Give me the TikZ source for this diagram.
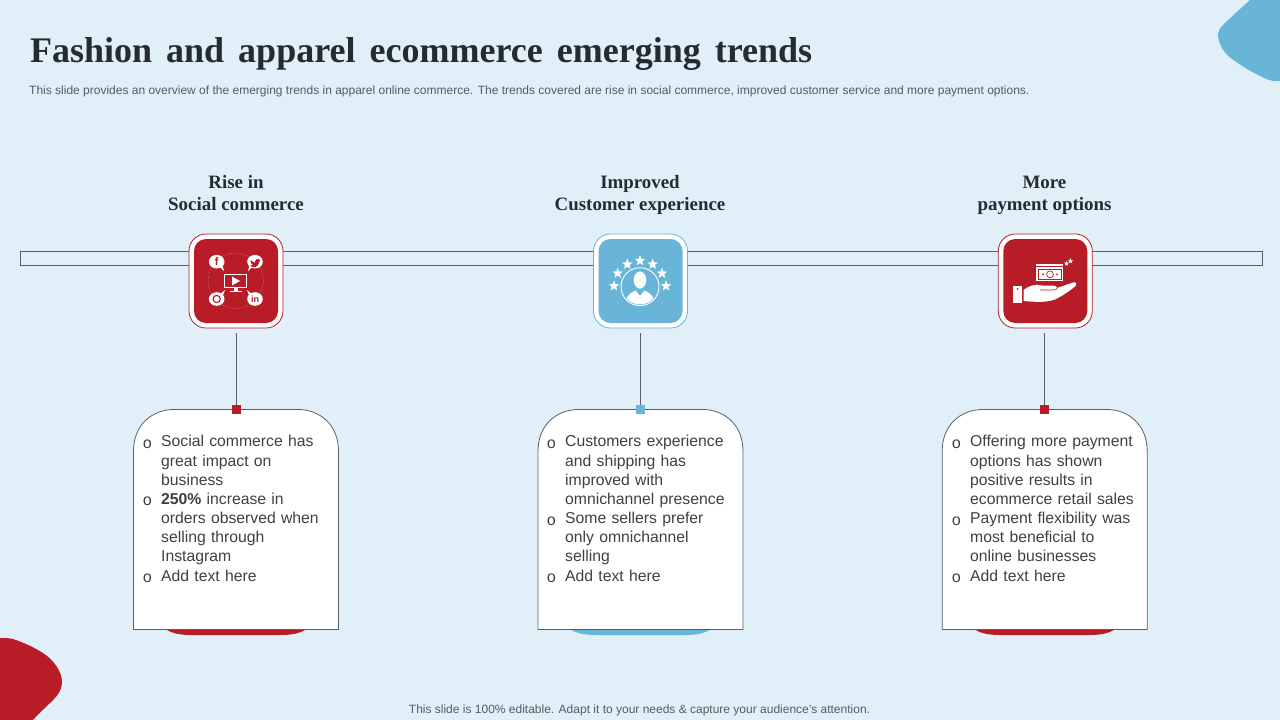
\documentclass[tikz,border=0pt]{standalone}
\usepackage{fontspec}
\setmainfont{Liberation Sans}
\newfontfamily\serifh{Liberation Serif Bold}
\newfontfamily\bulf{Liberation Mono}
\usetikzlibrary{calc}
\definecolor{bg}{HTML}{E1F0F8}
\definecolor{rd}{HTML}{B71C27}
\definecolor{bl}{HTML}{68B5D8}
\definecolor{ln}{HTML}{5A6066}
\definecolor{tx}{HTML}{404040}
\definecolor{sb}{HTML}{555B60}
\definecolor{ttl}{HTML}{262B2F}
\newcommand{\bul}{\leavevmode\llap{\raisebox{-1.5pt}{\bulf\fontsize{16}{16}\selectfont o}\hspace{9pt}}}
\newcommand{\starat}[3]{\begin{scope}[shift={(#1,#2)}]\fill[white] (270:#3) \foreach \a/\r in {306/0.42,342/1,18/0.42,54/1,90/0.42,126/1,162/0.42,198/1,234/0.42}{ -- (\a:#3*\r)} -- cycle;\end{scope}}
\tikzset{
 x=1pt,y=-1pt,
 bar/.style={draw=ln,line width=0.8pt,minimum width=1242pt,minimum height=14pt,inner sep=0pt},
 outerbox/.style={draw=#1,fill=white,line width=0.8pt,rounded corners=17pt,minimum size=94pt,inner sep=0pt},
 innerbox/.style={fill=#1,rounded corners=12pt,minimum size=84pt,inner sep=0pt},
 dot/.style={fill=#1,minimum size=9pt,inner sep=0pt},
 stem/.style={draw=ln,line width=0.8pt},
 head/.style={font=\serifh\fontsize{18.9}{22}\selectfont,text=ttl,align=center,inner sep=0pt},
 body/.style={font=\fontsize{15.75}{19.17}\selectfont,text=tx,align=left,anchor=north west,inner sep=0pt,text width=190pt},
 card/.style={draw=ln,fill=white,line width=0.8pt},
}
\newcommand{\card}[2]{%
 \fill[#2] (#1-79,620) -- (#1+79,620) .. controls (#1+72,632) and (#1+60,635) .. (#1+45,635) -- (#1-45,635) .. controls (#1-60,635) and (#1-72,632) .. (#1-79,620) -- cycle;
 \draw[card] (#1-102.5,629.5) -- (#1-102.5,451) .. controls (#1-102.5,425) and (#1-84,409.5) .. (#1-62,409.5) -- (#1+62,409.5) .. controls (#1+84,409.5) and (#1+102.5,425) .. (#1+102.5,451) -- (#1+102.5,629.5) -- cycle;
}
\begin{document}
\begin{tikzpicture}
\useasboundingbox (0,0) rectangle (1280,720);
\fill[bg] (0,0) rectangle (1280,720);
% corner blobs
\fill[rd] (0,638) .. controls (5,638) and (9,638) .. (13,639) .. controls (25,643) and (35,648) .. (43,653) .. controls (54,660) and (62,672) .. (62,682) .. controls (62,692) and (55,698) .. (50,703) .. controls (44,709) and (38,714) .. (33,720) -- (0,720) -- cycle;
\fill[bl] (1250,0) .. controls (1240,9) and (1230,18) .. (1223,25) .. controls (1219,29) and (1218,32) .. (1218,36) .. controls (1219,45) and (1224,53) .. (1232,59) .. controls (1243,67) and (1252,72) .. (1262,77) .. controls (1268,80) and (1274,82) .. (1280,81) -- (1280,0) -- cycle;
% title
\node[anchor=base west,inner sep=0pt,text=ttl,font=\serifh\fontsize{36}{40}\selectfont] (title) at (30,62) {\spaceskip=14pt Fashion and apparel ecommerce emerging trends};
\node[anchor=base west,inner sep=0pt,text=sb,font=\fontsize{12}{14}\selectfont] (sub) at (29,94.7) {This slide provides an overview of the emerging trends in apparel online commerce. The trends covered are rise in social commerce, improved customer service and more payment options.};
\node[anchor=base,inner sep=0pt,text=sb,font=\fontsize{12}{14}\selectfont] (foot) at (639.5,713) {This slide is 100\% editable. Adapt it to your needs \& capture your audience’s attention.};
% bar
\node[bar] (timeline) at (641,258) {};
% headings
\node[head] (h1) at (236,195) {\strut Rise in\\Social commerce\strut};
\node[head] (h2) at (640,195) {\strut Improved\\Customer experience\strut};
\node[head] (h3) at (1044.5,195) {\strut More\\payment options\strut};
% cards
\card{236}{rd}\card{640.5}{bl}\card{1044.7}{rd}
% icon boxes
\node[outerbox=rd] (o1) at (236,281) {};
\node[innerbox=rd] (i1) at (236,281) {};
\node[outerbox=bl] (o2) at (640.5,281) {};
\node[innerbox=bl] (i2) at (640.5,281) {};
\node[outerbox=rd] (o3) at (1045.3,281) {};
\node[innerbox=rd] (i3) at (1045.3,281) {};
% dots and stems
\node[dot=rd] (d1) at (236,409.5) {};
\node[dot=bl] (d2) at (640.5,409.5) {};
\node[dot=rd] (d3) at (1044.7,409.5) {};
\draw[stem] ([yshift=-5pt]d1.north |- o1.south) -- (d1.north);
\draw[stem] ([yshift=-5pt]d2.north |- o2.south) -- (d2.north);
\draw[stem] ([yshift=-5pt]d3.north |- o3.south) -- (d3.north);
% card text
\node[body] (t1) at (161,435.3) {\bul Social commerce has\\great impact on\\business\\\bul \textbf{250\%} increase in\\orders observed when\\selling through\\Instagram\\\bul Add text here};
\node[body] (t2) at (565,435.3) {\bul Customers experience\\and shipping has\\improved with\\omnichannel presence\\\bul Some sellers prefer\\only omnichannel\\selling\\\bul Add text here};
\node[body] (t3) at (970,435.3) {\bul Offering more payment\\options has shown\\positive results in\\ecommerce retail sales\\\bul Payment flexibility was\\most beneficial to\\online businesses\\\bul Add text here};
% icon 1: social
\draw[white!70!rd,line width=0.4pt,densely dotted] (235.7,280.7) circle (27.7);
\fill[white] (216.7,261.7) ellipse (7.8 and 6.8);
\fill[white] (219,266) -- (224,271) -- (222,263) -- cycle;
\fill[white] (255,261.7) ellipse (7.8 and 6.8);
\fill[white] (253,266) -- (248,271) -- (250,263) -- cycle;
\fill[white] (216.7,299) ellipse (7.8 and 6.8);
\fill[white] (219,295) -- (225,290) -- (222,298) -- cycle;
\fill[white] (255,299) ellipse (7.8 and 6.8);
\fill[white] (253,295) -- (247,290) -- (250,298) -- cycle;
\node[inner sep=0pt,text=rd,font=\bfseries\fontsize{11}{11}\selectfont] (fb) at (216.7,261.7) {f};
\node[inner sep=0pt,text=rd,font=\bfseries\fontsize{9}{9}\selectfont] (li) at (255,299) {in};
\fill[rd] (250.5,259.5) .. controls (252,262) and (254,262.5) .. (255,262.5) .. controls (255,259) and (258,258) .. (260,260) -- (259,263) .. controls (258,268) and (252,268) .. (250,265.5) .. controls (252,265.5) and (253,265) .. (253,265) .. controls (251,264) and (250,262) .. (250.5,259.5) -- cycle;
\draw[rd,line width=1.1pt] (216.7,299) circle (3.6);
\draw[white,line width=1pt] (224.8,274.5) rectangle (246.2,287);
\fill[white] (232,276.5) -- (240,281) -- (232,285.5) -- cycle;
\fill[white] (234,287) rectangle (237.5,290.5);
\fill[white] (230,290.5) rectangle (241.5,292);
% icon 2: person + stars
\draw[white,line width=0.9pt] (640,286.7) circle (19);
\begin{scope}
\clip (640,286.7) circle (17.8);
\fill[white] (640,280) ellipse (6.2 and 8.6);
\fill[white] (624,307) .. controls (625,298) and (629,293) .. (635.5,290.5) -- (640,296) -- (644.5,290.5) .. controls (651,293) and (655,298) .. (656,307) -- cycle;
\end{scope}
\starat{614}{286}{5.5}\starat{617.7}{273.3}{5.5}\starat{627.3}{264.3}{5.5}\starat{640}{260.7}{5.5}\starat{652.7}{264.3}{5.5}\starat{662}{273.3}{5.5}\starat{666}{286}{5.5}
% icon 3: hand + bill
\fill[white] (1036,264.3) rectangle (1063.3,281);
\draw[rd,line width=0.6pt] (1038,269) rectangle (1061.5,279.5);
\draw[rd,line width=0.6pt] (1036,266.5) -- (1063.3,266.5);
\draw[rd,line width=0.7pt] (1050,274.3) circle (3.4);
\fill[rd] (1043,274.3) circle (1);\fill[rd] (1057,274.3) circle (1);
\starat{1066.5}{263.5}{2.6}\starat{1070.5}{261}{2.8}
\fill[white] (1013.3,285.7) rectangle (1021.7,302.7);
\fill[rd] (1017.5,289) circle (1);
\fill[white] (1023.5,290) .. controls (1030,285) and (1036,284) .. (1042,285.5) -- (1053,285.5) .. controls (1056,285.5) and (1057,287) .. (1057,288) -- (1073,282.5) .. controls (1076,281.5) and (1077.5,284) .. (1076,285.5) .. controls (1070,291) and (1062,296) .. (1055,299.5) .. controls (1048,302) and (1040,302.5) .. (1023.5,301) -- cycle;
\draw[rd,line width=0.6pt] (1040,290) -- (1054,290) .. controls (1056,290) and (1057,289) .. (1057,288);
\end{tikzpicture}
\end{document}
